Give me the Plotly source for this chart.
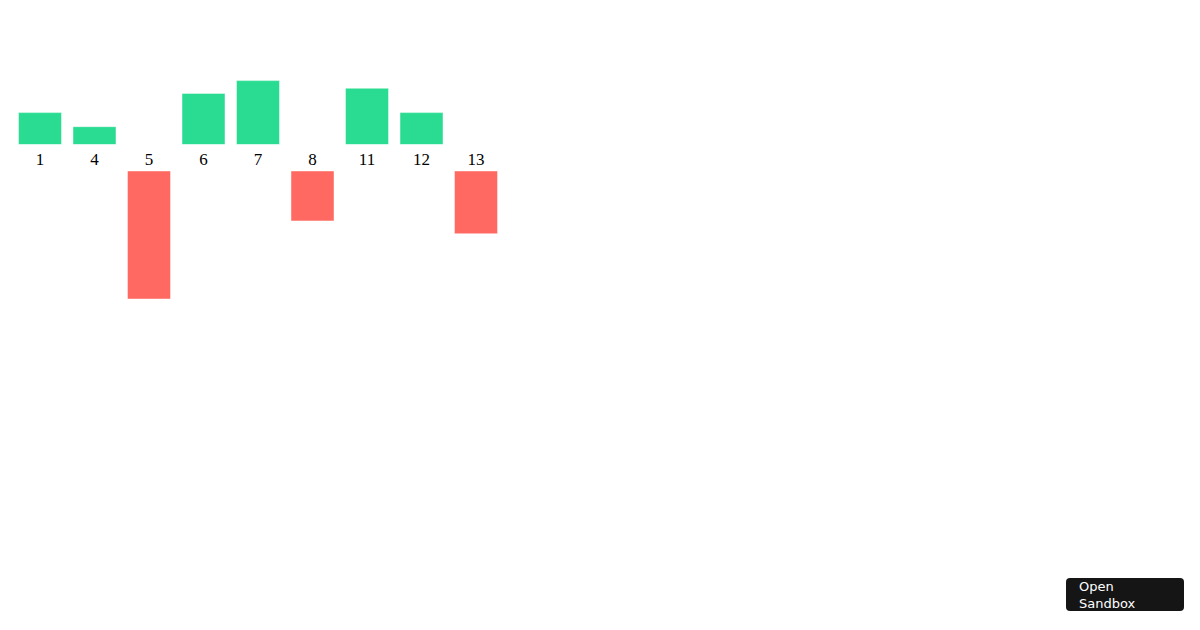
import plotly.graph_objects as go

# bar categories and values (positive = green, negative = red)
categories = ["1", "4", "5", "6", "7", "8", "11", "12", "13"]
values = [5, 2.8, -20, 8, 10, -7.8, 8.8, 5, -9.8]

W, H = 1200, 630
OFF = 8                # page body margin shifts the figure by this much
PX_PER_UNIT = 6.4      # vertical scale
BASE_TOP = 144.6 - OFF     # pixel row of the positive baseline
BASE_BOTTOM = 171.0 - OFF  # pixel row of the negative baseline
FIRST_X = 40.0 - OFF       # pixel centre of the first bar
PITCH = 54.5               # pixel distance between bars

pos = [v if v > 0 else None for v in values]
neg = [v if v < 0 else None for v in values]

fig = go.Figure()
fig.add_trace(go.Bar(
    x=categories, y=pos, xaxis="x", yaxis="y",
    marker=dict(color="#2ADC92", line=dict(color="rgba(255,255,255,0.45)", width=1)),
    hoverinfo="x+y",
))
fig.add_trace(go.Bar(
    x=categories, y=neg, xaxis="x2", yaxis="y2",
    marker=dict(color="#FF6961", line=dict(color="rgba(255,255,255,0.45)", width=1)),
    hoverinfo="x+y",
))

x_lo = -FIRST_X / PITCH
x_hi = (W - FIRST_X) / PITCH

fig.update_layout(
    width=W, height=H,
    margin=dict(l=0, r=0, t=0, b=0),
    paper_bgcolor="white", plot_bgcolor="white",
    showlegend=False,
    bargap=1 - 43 / PITCH,
    xaxis=dict(
        type="category", range=[x_lo, x_hi], domain=[0, 1], anchor="y",
        showgrid=False, zeroline=False, showline=False, ticks="",
        tickfont=dict(family="Liberation Serif", size=17, color="black"),
        ticklabelstandoff=2,
    ),
    xaxis2=dict(
        type="category", range=[x_lo, x_hi], domain=[0, 1], anchor="y2",
        matches="x", showticklabels=False, showgrid=False, zeroline=False,
        showline=False, ticks="",
    ),
    yaxis=dict(
        domain=[(H - BASE_TOP) / H, 1], range=[0, BASE_TOP / PX_PER_UNIT],
        visible=False, showgrid=False, zeroline=False,
    ),
    yaxis2=dict(
        domain=[0, (H - BASE_BOTTOM) / H], range=[-(H - BASE_BOTTOM) / PX_PER_UNIT, 0],
        visible=False, showgrid=False, zeroline=False,
    ),
)

# "Open Sandbox" button in the bottom-right corner
x0, x1 = (1066 - OFF) / W, (1184 - OFF) / W
y0, y1 = 1 - (611 - OFF) / H, 1 - (578 - OFF) / H
rx, ry = 4 / W, 4 / H
path = (f"M {x0+rx},{y0} L {x1-rx},{y0} Q {x1},{y0} {x1},{y0+ry} "
        f"L {x1},{y1-ry} Q {x1},{y1} {x1-rx},{y1} L {x0+rx},{y1} "
        f"Q {x0},{y1} {x0},{y1-ry} L {x0},{y0+ry} Q {x0},{y0} {x0+rx},{y0} Z")
fig.add_shape(type="path", path=path, xref="paper", yref="paper",
              fillcolor="#151515", line=dict(width=0))
fig.add_annotation(
    text="Open<br>Sandbox", xref="paper", yref="paper",
    x=(1077 - OFF) / W, y=1 - (594.5 - OFF) / H, xanchor="left", yanchor="middle",
    showarrow=False, align="left",
    font=dict(family="DejaVu Sans", size=13, color="white"),
)

fig.write_html("out.html")
